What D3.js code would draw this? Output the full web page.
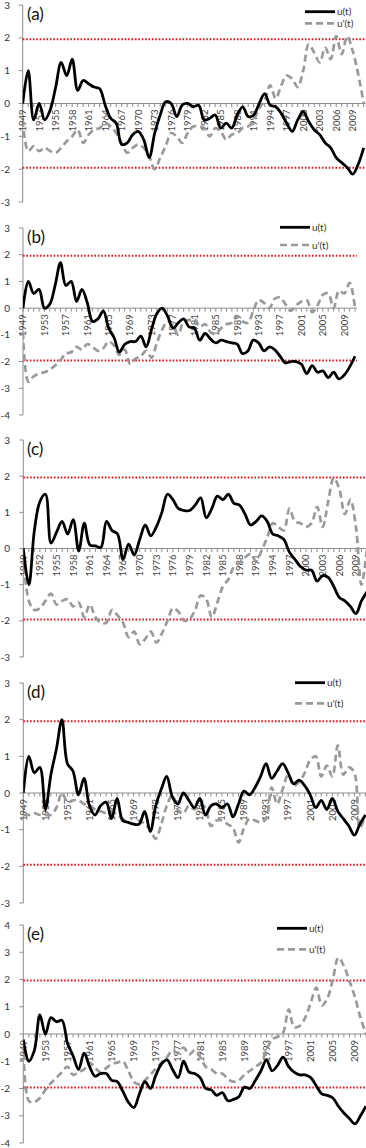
<!DOCTYPE html>
<html><head><meta charset="utf-8">
<script src="https://cdn.jsdelivr.net/npm/d3@7"></script>
<style>body{margin:0;background:#fff}svg{display:block}text{font-family:Lato,'Open Sans',sans-serif}</style>
</head><body><svg id="c" width="366" height="1148"></svg>
<script>
const years = [1949,1950,1951,1952,1953,1954,1955,1956,1957,1958,
1959,1960,1961,1962,1963,1964,1965,1966,1967,1968,
1969,1970,1971,1972,1973,1974,1975,1976,1977,1978,
1979,1980,1981,1982,1983,1984,1985,1986,1987,1988,
1989,1990,1991,1992,1993,1994,1995,1996,1997,1998,
1999,2000,2001,2002,2003,2004,2005,2006,2007,2008,
2009,2010,2011];
const seriesNames = ["u(t)", "u'(t)"];
const yTicksA = [-3,-2,-1,0,1,2,3];
const yTicksB = [-4,-3,-2,-1,0,1,2,3];
const yTicksE = [-4,-3,-2,-1,0,1,2,3,4];
const critical = [1.96,-1.96];

const uA = [0,1.0,-0.5,0.0,-0.5,-0.2,0.5,1.25,0.85,1.35,
0.4,0.7,0.6,0.5,0.45,-0.05,-0.45,-0.6,-1.25,-1.2,
-0.95,-0.85,-1.1,-1.65,-0.9,-0.35,0.05,0.0,-0.4,-0.05,
0.0,-0.1,-0.05,-0.5,-0.45,-0.35,-0.75,-0.6,-0.75,-0.35,
-0.1,-0.4,-0.35,0.0,0.3,-0.05,-0.1,-0.3,-0.6,-0.85,
-0.5,-0.25,-0.55,-0.8,-0.95,-1.2,-1.35,-1.65,-1.8,-1.95,
-2.15,-1.85,-1.35];
const upA = [-0.5,-1.45,-1.3,-1.45,-1.35,-1.45,-1.5,-1.35,-1.15,-1.0,
-0.8,-1.2,-0.95,-0.8,-0.75,-0.6,-0.7,-0.9,-1.2,-1.5,
-1.35,-1.25,-1.35,-1.6,-2.0,-1.65,-1.3,-0.9,-1.0,-1.2,
-0.9,-0.7,-0.7,-0.75,-1.0,-0.75,-0.85,-1.1,-0.95,-0.9,
-0.75,-0.7,-0.5,-0.15,0.1,0.55,0.15,0.55,0.85,0.75,
0.5,1.0,1.8,1.55,1.25,1.7,1.35,2.05,1.5,2.05,
1.6,0.9,0.0];
const uB = [0,1.0,0.55,0.7,0.0,0.15,0.85,1.7,0.85,1.0,
0.25,0.7,0.2,-0.5,-0.4,-0.1,-0.75,-1.1,-1.65,-1.35,
-1.25,-1.25,-1.05,-1.45,-0.8,-0.2,0.0,-0.3,-0.75,-0.55,
-0.4,-0.7,-0.75,-1.2,-0.95,-1.15,-1.3,-1.2,-1.25,-1.3,
-1.35,-1.7,-1.6,-1.2,-1.3,-1.6,-1.45,-1.55,-1.8,-2.05,
-2.0,-2.0,-2.1,-2.45,-2.15,-2.4,-2.35,-2.6,-2.4,-2.65,
-2.5,-2.2,-1.8];
const upB = [-0.9,-2.75,-2.55,-2.45,-2.4,-2.3,-2.15,-1.95,-1.7,-1.65,
-1.45,-1.55,-1.35,-1.45,-1.6,-1.5,-1.25,-1.4,-1.75,-1.55,
-2.1,-1.9,-1.8,-1.6,-1.85,-1.3,-0.8,-0.5,-0.65,-1.0,
-0.5,-0.45,-0.4,-0.7,-0.6,-0.9,-0.95,-0.75,-0.6,-0.55,
-0.3,-0.5,-0.55,-0.1,0.3,0.2,0.0,0.35,0.4,0.15,
-0.1,0.1,0.25,0.3,-0.15,0.1,0.5,0.55,0.0,0.65,
0.55,0.95,0.0];
const uC = [0,-1.0,0.5,1.3,1.5,0.15,0.45,0.75,0.4,0.8,
-0.07,0.7,0.1,0.07,0.03,0.75,0.5,0.4,-0.3,0.12,
-0.18,0.25,0.65,0.35,0.6,1.0,1.5,1.35,1.1,1.05,
1.05,1.2,1.4,0.85,1.1,1.45,1.35,1.5,1.25,1.2,
0.95,0.65,0.75,0.9,0.75,0.4,0.35,0.25,-0.1,-0.3,
-0.5,-0.6,-0.6,-0.9,-0.75,-0.8,-1.05,-1.35,-1.45,-1.6,
-1.8,-1.45,-1.2];
const upC = [-0.2,-1.45,-1.7,-1.65,-1.45,-1.25,-1.55,-1.45,-1.4,-1.6,
-1.5,-1.9,-1.55,-1.9,-2.05,-2.05,-1.7,-1.85,-2.05,-2.45,
-2.3,-2.65,-2.5,-2.3,-2.6,-2.35,-2.0,-1.65,-1.75,-2.0,
-1.95,-1.7,-1.3,-1.4,-1.9,-1.5,-1.05,-0.85,-0.5,-0.4,
-0.25,-0.15,-0.35,-0.05,0.3,0.7,0.6,0.5,1.1,0.75,
0.7,0.6,0.7,1.15,0.6,1.3,1.95,1.65,0.95,1.35,
0.6,-1.0,0.0];
const uD = [0,1.0,0.55,0.7,-0.45,0.5,1.2,2.0,0.8,0.6,
-0.05,0.4,-0.35,-0.6,-0.35,-0.25,-0.7,-0.15,-0.75,-0.8,
-0.85,-0.85,-0.5,-1.05,-0.35,0.1,0.45,-0.1,-0.3,0.0,
-0.2,-0.4,-0.15,-0.6,-0.35,-0.3,-0.4,-0.3,-0.65,-0.3,
0.05,-0.05,0.15,0.45,0.8,0.4,0.6,0.8,0.55,0.25,
0.35,0.2,-0.05,-0.4,-0.2,-0.45,-0.15,-0.5,-0.7,-0.9,
-1.15,-0.85,-0.6];
const upD = [-0.6,-0.6,-0.55,-0.6,-0.6,-0.6,-0.4,0.0,-0.25,-0.2,
-0.2,-0.3,-0.35,-0.45,-0.5,-0.55,-0.5,-0.6,-0.7,-0.8,
-0.85,-0.75,-0.85,-1.0,-1.25,-0.85,-0.35,-0.05,-0.45,-0.55,
-0.35,-0.45,-0.3,-0.4,-0.9,-0.75,-0.75,-0.85,-0.95,-1.35,
-0.95,-0.7,-0.75,-0.8,-0.7,0.15,-0.3,0.1,0.5,0.2,
0.3,0.55,0.9,1.0,0.45,0.75,0.45,1.3,0.5,0.7,
0.55,-0.95,-0.6];
const uE = [-0.2,-1.0,-0.6,0.7,0.0,0.6,0.45,0.5,-0.35,-0.8,
-1.3,-0.7,-1.2,-1.55,-1.45,-1.45,-1.7,-1.75,-2.1,-2.5,
-2.7,-2.2,-1.75,-2.0,-1.5,-1.1,-0.95,-1.3,-1.6,-1.0,
-1.4,-1.45,-1.6,-2.0,-2.05,-2.25,-2.15,-2.45,-2.4,-2.3,
-1.95,-2.0,-1.7,-1.35,-0.95,-1.35,-1.15,-0.85,-1.2,-1.4,
-1.5,-1.5,-1.6,-1.9,-2.2,-2.25,-2.35,-2.65,-2.9,-3.1,
-3.3,-3.0,-2.65];
const upE = [-0.3,-2.45,-2.5,-2.35,-2.05,-1.8,-1.6,-1.4,-1.2,-1.5,
-1.4,-1.3,-1.05,-1.25,-1.4,-1.25,-1.1,-1.05,-1.0,-1.35,
-1.75,-1.85,-1.7,-1.5,-1.25,-1.05,-0.85,-0.6,-0.7,-0.5,
-0.75,-0.6,-0.85,-1.2,-1.3,-1.45,-1.45,-1.65,-1.75,-1.7,
-1.5,-1.35,-1.2,-1.05,-0.6,-0.2,-0.1,0.05,0.9,0.25,
0.3,0.6,1.15,1.7,1.05,1.3,2.0,2.8,2.5,1.95,
1.35,0.6,0.0];

const panels = [
 {label:"(a)", u:uA, up:upA, ticks:yTicksA, yRange:[202,5], xRange:[22.7,363.7], step:3, legend:{x:305,y1:11.7,y2:23.3}},
 {label:"(b)", u:uB, up:upB, ticks:yTicksB, yRange:[415,228], xRange:[23,355], step:4, legend:{x:280,y1:227.3,y2:245}},
 {label:"(c)", u:uC, up:upC, ticks:yTicksA, yRange:[657,440], xRange:[23.3,367], step:3, legend:null},
 {label:"(d)", u:uD, up:upD, ticks:yTicksA, yRange:[903,683], xRange:[23.3,365.4], step:4, legend:{x:295,y1:682.7,y2:703.3}},
 {label:"(e)", u:uE, up:upE, ticks:yTicksE, yRange:[1143,925], xRange:[23.3,366], step:4, legend:{x:277,y1:928.3,y2:949.3}}
];

const svg = d3.select("#c");
const axisCol = "#8c8c8c", textCol = "#333";
const dash = "7,4";

panels.forEach((p,i)=>{
  const g = svg.append("g");
  const x = d3.scaleLinear().domain([years[0], years[years.length-1]]).range(p.xRange);
  const y = d3.scaleLinear().domain([d3.min(p.ticks), d3.max(p.ticks)]).range(p.yRange);
  const x0 = p.xRange[0], xEnd = Math.min(366, p.xRange[1]+2);
  g.append("line").attr("x1",x0).attr("x2",x0).attr("y1",y(d3.max(p.ticks))).attr("y2",y(d3.min(p.ticks)))
    .attr("stroke",axisCol).attr("stroke-width",1);
  p.ticks.forEach(t=>{
    g.append("line").attr("x1",x0-4).attr("x2",x0).attr("y1",y(t)).attr("y2",y(t)).attr("stroke",axisCol);
    g.append("text").attr("x",10).attr("y",y(t)).attr("dy","0.35em").attr("text-anchor","end")
      .attr("font-size",10).attr("fill",textCol).text(t);
  });
  critical.forEach(c=>{
    g.append("line").attr("x1",x0).attr("x2",xEnd).attr("y1",y(c)).attr("y2",y(c))
      .attr("stroke","#d7191c").attr("stroke-width",2).attr("stroke-dasharray","1.6,1.8");
  });
  const y0 = y(0);
  g.append("line").attr("x1",x0).attr("x2",xEnd).attr("y1",y0).attr("y2",y0).attr("stroke",axisCol);
  years.forEach(yr=>{
    g.append("line").attr("x1",x(yr)).attr("x2",x(yr)).attr("y1",y0).attr("y2",y0+3.5).attr("stroke",axisCol);
  });
  years.filter((yr,k)=>k % p.step===0).forEach(yr=>{
    g.append("text").attr("transform",`translate(${x(yr)},${y0+6}) rotate(-90)`)
      .attr("text-anchor","end").attr("dy","0.35em").attr("font-size",9.5).attr("fill","#444").text(yr);
  });
  const cid = "clip"+i;
  svg.append("clipPath").attr("id",cid).append("rect").attr("x",x0).attr("y",p.yRange[1]-10)
    .attr("width",366-x0).attr("height",p.yRange[0]-p.yRange[1]+20);
  const line = d3.line().x((d,k)=>x(years[k])).y(d=>y(d)).curve(d3.curveCatmullRom.alpha(0.5));
  const lg = g.append("g").attr("clip-path",`url(#${cid})`);
  lg.append("path").attr("d",line(p.up)).attr("fill","none").attr("stroke","#9a9a9a")
    .attr("stroke-width",2.7).attr("stroke-dasharray",dash);
  lg.append("path").attr("d",line(p.u)).attr("fill","none").attr("stroke","#000").attr("stroke-width",2.8)
    .attr("stroke-linejoin","round");
  g.append("text").attr("x",27).attr("y",y(d3.max(p.ticks))+15).attr("font-size",17).attr("fill","#111").text(p.label);
  if (p.legend){
    const L = p.legend;
    g.append("line").attr("x1",L.x).attr("x2",L.x+30).attr("y1",L.y1).attr("y2",L.y1).attr("stroke","#000").attr("stroke-width",2.8);
    g.append("text").attr("x",L.x+32).attr("y",L.y1).attr("dy","0.35em").attr("font-size",10).attr("fill",textCol).text(seriesNames[0]);
    g.append("line").attr("x1",L.x).attr("x2",L.x+30).attr("y1",L.y2).attr("y2",L.y2).attr("stroke","#9a9a9a").attr("stroke-width",2.7).attr("stroke-dasharray",dash);
    g.append("text").attr("x",L.x+32).attr("y",L.y2).attr("dy","0.35em").attr("font-size",10).attr("fill",textCol).text(seriesNames[1]);
  }
});
</script></body></html>
